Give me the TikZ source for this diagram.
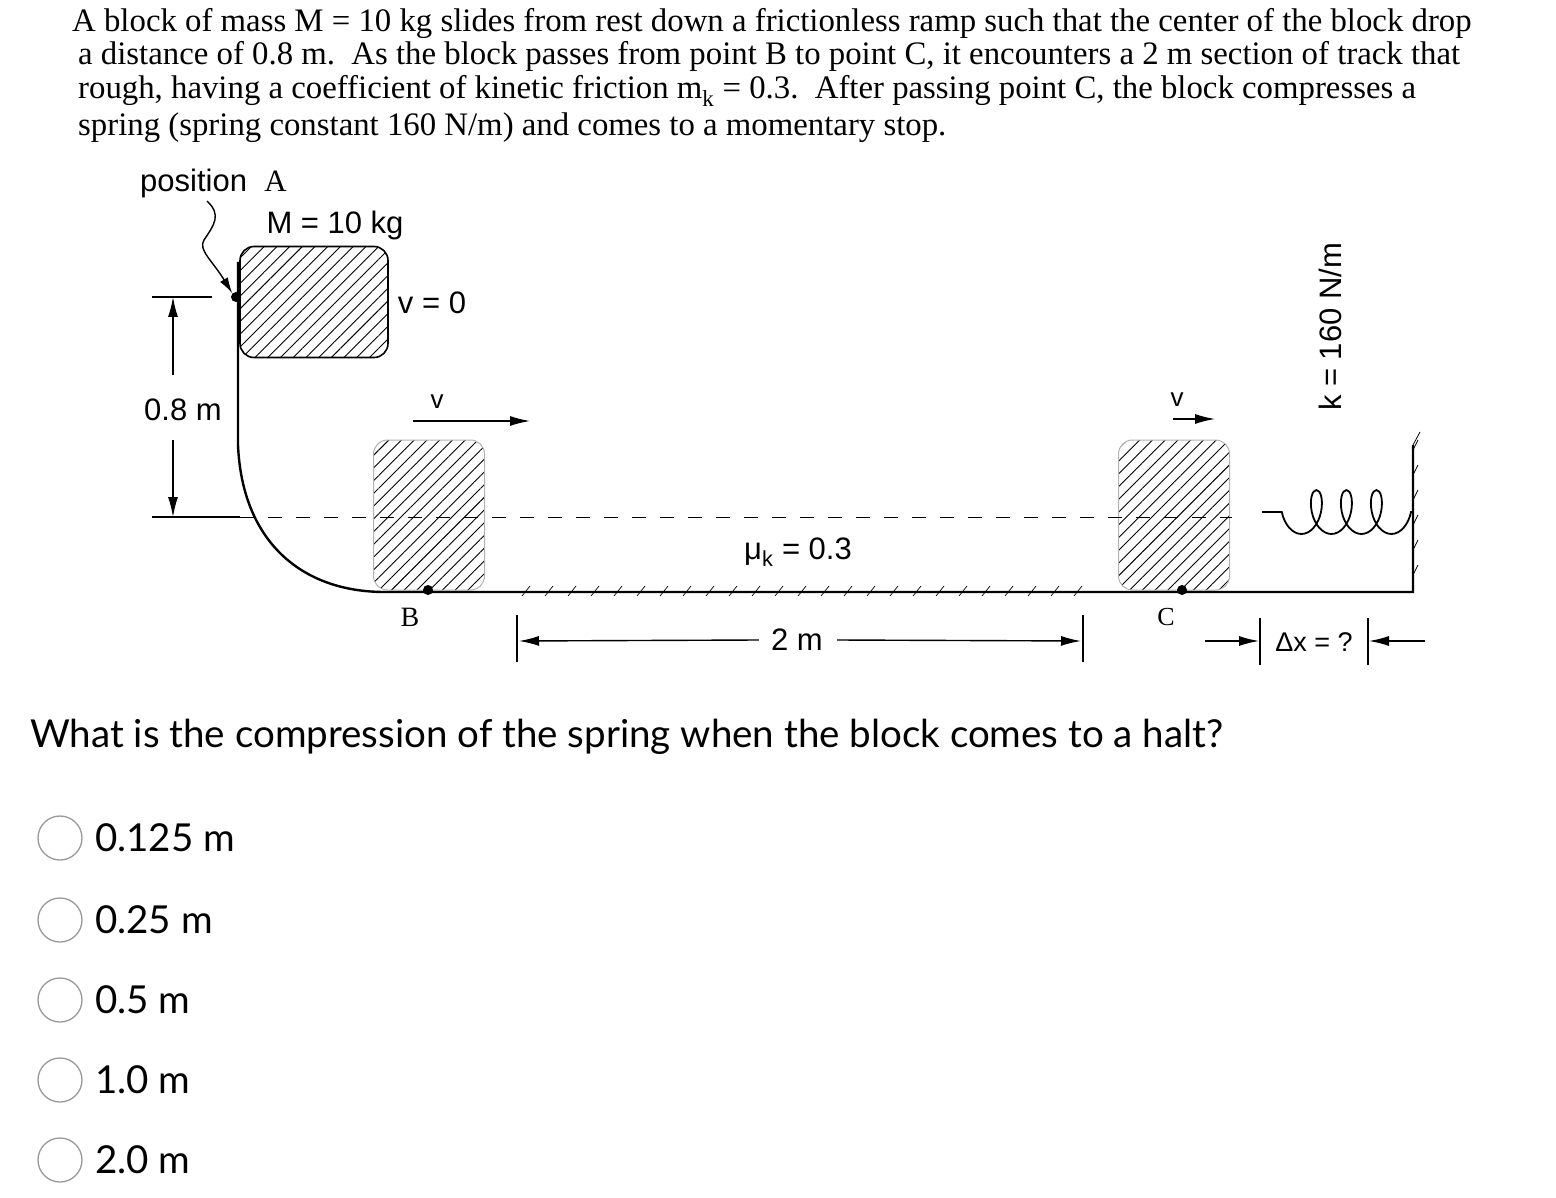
\documentclass[tikz,border=0pt]{standalone}
\usepackage{fontspec}
\setmainfont{Liberation Serif}
\newfontfamily\arial{Liberation Sans}
\newfontfamily\lato{Lato}
\usetikzlibrary{patterns.meta,decorations.pathmorphing,arrows.meta}
\begin{document}
\begin{tikzpicture}[x=1pt,y=-1pt,
  ptxt/.style={anchor=base west,inner sep=0pt,font=\fontsize{32.8}{32}\selectfont},
  lbl/.style={inner sep=0pt,font=\arial\fontsize{31}{31}\selectfont},
  blk/.style={rounded corners=14pt,pattern={Lines[angle=45,distance=9pt,line width=0.9pt]}},
  tk/.style={line width=1.3pt},
  arr/.style={line width=1.4pt,-{Latex[length=20pt,width=10pt]}},
  dot/.style={circle,fill,inner sep=0pt,minimum size=10pt},
  opt/.style={circle,draw=gray!80,line width=1.3pt,minimum size=44pt,inner sep=0pt},
  otxt/.style={anchor=west,inner sep=0pt,font=\lato\fontsize{38.5}{38}\selectfont}]
\useasboundingbox (0,0) rectangle (1556,1198);
\node[ptxt] (l1) at (72,32) {A block of mass M = 10 kg slides from rest down a frictionless ramp such that the center of the block drop};
\node[ptxt] (l2) at (78,65) {a distance of 0.8 m.\ \ As the block passes from point B to point C, it encounters a 2 m section of track that};
\node[ptxt] (l3) at (78,99) {rough, having a coefficient of kinetic friction m\textsubscript{k} = 0.3.\ \ After passing point C, the block compresses a};
\node[ptxt] (l4) at (78,136) {spring (spring constant 160 N/m) and comes to a momentary stop.};
% labels
\node[lbl,anchor=base west] (posA) at (140,192) {position\ \ \fontspec{Liberation Serif}A};
\node[lbl] (mass) at (335,225) {M = 10 kg};
\node[lbl] (v0) at (432,303) {v = 0};
% blocks
\node[blk,draw=black,line width=1.6pt,minimum width=148pt,minimum height=111pt] (bA) at (314,302) {};
\node[blk,draw=gray!60,line width=1pt,minimum width=111pt,minimum height=150pt] (bB) at (429,515) {};
\node[blk,draw=gray!60,line width=1pt,minimum width=111pt,minimum height=150pt] (bC) at (1174,515) {};
% track
\draw[line width=2.4pt] (238,262) -- (238,445) .. controls (242,540) and (300,592) .. (385,592) -- (1413,592) -- (1413,445);
\foreach \yy in {450,475,...,585} \draw[line width=0.8pt] (1413,\yy) -- (1418,\yy-10);
\draw[line width=0.8pt] (1413,445) -- (1420,432);
\foreach \xx in {522,545,...,1080} \draw[line width=0.7pt] (\xx,596) -- (\xx+8,586);
% dashed reference line
\draw[dashed,dash pattern=on 14pt off 14pt,line width=1pt] (240,517) -- (1232,517);
% dots
\node[dot] (dA) at (236,297) {};
\node[dot] (dB) at (428,590) {};
\node[dot] (dC) at (1182,590) {};
\node[font=\fontsize{28}{28}\selectfont] (Bl) at (410,617) {B};
\node[font=\fontsize{26}{26}\selectfont] (Cl) at (1166,617) {C};
% squiggle arrow
\coordinate (sq) at (207,201);
\draw[line width=1.4pt,-{Latex[length=16pt,width=9pt]}] (sq) .. controls (222,215) and (214,225) .. (204,240) .. controls (198,250) and (212,260) .. (dA.north west);
% height dim
\coordinate (t1) at (152,297); \coordinate (t2) at (212,297);
\coordinate (b1) at (152,517); \coordinate (b2) at (240,517);
\draw[tk] (t1) -- (t2); \draw[tk] (b1) -- (b2);
\node[lbl] (h) at (183,410) {0.8 m};
\draw[arr] (173,375) -- (173,297);
\draw[arr] (173,440) -- (173,517);
% v arrows
\node[lbl,font=\arial\fontsize{26}{26}\selectfont] (vB) at (437,402) {v};
\draw[arr] (413,421) -- (530,421);
\node[lbl,font=\arial\fontsize{26}{26}\selectfont] (vC) at (1177,400) {v};
\draw[arr] (1173,419) -- (1215,419);
\node[lbl] (mu) at (798,552) {μ\textsubscript{k} = 0.3};
% 2 m dim
\draw[tk] (517,615) -- (517,662);
\draw[tk] (1083,615) -- (1083,662);
\node[lbl] (two) at (797,640) {2 m};
\draw[arr] (two.west)++(-12,0) -- (519,641);
\draw[arr] (two.east)++(14,0) -- (1081,641);
% spring
\coordinate (s0) at (1262,512);
\coordinate (s1) at (1413,512);
\draw[line width=1.8pt,decorate,decoration={coil,aspect=0.55,amplitude=22pt,segment length=30pt,pre length=2pt,post length=2pt}] (s1) -- (s0);
\node[lbl,rotate=90] (k) at (1330,327) {k = 160 N/m};
% dx dim
\draw[tk] (1260,618) -- (1260,665);
\draw[tk] (1368,618) -- (1368,665);
\node[lbl,font=\arial\fontsize{27}{27}\selectfont] (dx) at (1314,642) {Δx = ?};
\coordinate (dl) at (1205,641); \coordinate (dr) at (1425,641);
\draw[arr] (dl) -- (1259,641);
\draw[arr] (dr) -- (1369,641);
% question
\node[anchor=base west,inner sep=0pt,font=\lato\fontsize{38.5}{38}\selectfont] (q) at (30,747) {What is the compression of the spring when the block comes to a halt?};
\foreach \yy/\tt [count=\i] in {838/0.125 m,920/0.25 m,1000/0.5 m,1080/1.0 m,1160/2.0 m}{
  \node[opt] (o\i) at (60,\yy) {};
  \node[otxt] (t\i) at (95,\yy) {\tt};
}
\end{tikzpicture}
\end{document}
